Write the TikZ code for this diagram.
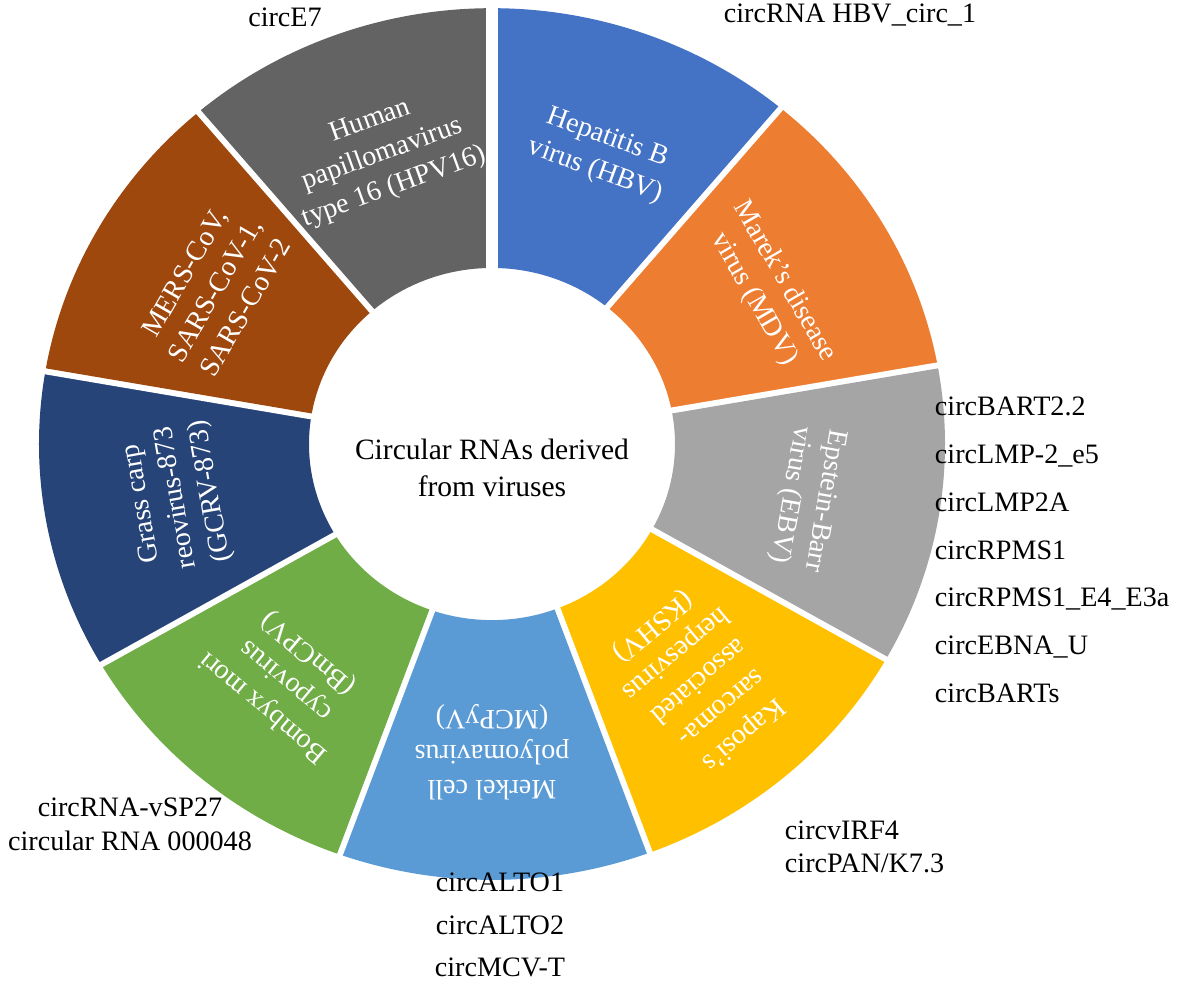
\documentclass[tikz,border=0pt]{standalone}
\usepackage{fontspec}
\setmainfont{Liberation Serif}
\usepackage{xcolor}
\definecolor{hbvblue}{HTML}{4472C4}
\definecolor{mdvorange}{HTML}{ED7D31}
\definecolor{ebvgray}{HTML}{A5A5A5}
\definecolor{kshvyellow}{HTML}{FFC000}
\definecolor{mcpyvblue}{HTML}{5B9BD5}
\definecolor{bmcpvgreen}{HTML}{70AD47}
\definecolor{gcrvnavy}{HTML}{264478}
\definecolor{merbrown}{HTML}{9E480E}
\definecolor{hpvgray}{HTML}{636363}
\tikzset{
  seglabel/.style={text=white, align=center, font=\fontsize{20}{25}\selectfont},
  outlabel/.style={text=black, font=\fontsize{20}{24}\selectfont},
}
\begin{document}
\begin{tikzpicture}[x=0.025cm, y=0.02405cm]
    \useasboundingbox (-492,-558.2) rectangle (689,461.5);

    % draw ring segments
    \foreach \s/\col/\txt [count=\i] in {
        50/hbvblue/{Hepatitis B\\virus (HBV)},
        10/mdvorange/{Marek's disease\\virus (MDV)},
        -30/ebvgray/{Epstein-Barr\\virus (EBV)},
        -70/kshvyellow/{Kaposi's\\sarcoma-\\associated\\herpesvirus\\(KSHV)},
        -110/mcpyvblue/{Merkel cell\\polyomavirus\\(MCPyV)},
        -150/bmcpvgreen/{Bombyx mori\\cypovirus\\(BmCPV)},
        170/gcrvnavy/{Grass carp\\reovirus-873\\(GCRV-873)},
        130/merbrown/{MERS-CoV,\\SARS-CoV-1,\\SARS-CoV-2},
        90/hpvgray/{Human\\papillomavirus\\type 16 (HPV16)}} {
      \fill[\col] (\s : 183) -- (\s : 453)
        arc [radius = 453, start angle = \s, delta angle = 40]
        -- (\s+40 : 183)
        arc [radius = 183, start angle = \s+40, delta angle = -40] -- cycle;
      \draw[white, line width=12*0.025cm] (\s : 170) -- (\s : 470);
      \node[seglabel, rotate=\s+20-90] (seg\i) at (\s+20 : 320) {\txt};
    }

    % draw symbols
    \node[outlabel, align=center, font=\fontsize{21}{26}\selectfont] (centre) at (0,-25) {Circular RNAs derived\\from viruses};
    \node[outlabel] (hpv) at (-207,443) {circE7};
    \node[outlabel] (hbv) at (358,446) {circRNA HBV\_circ\_1};
    \node[outlabel, anchor=north west, align=left, font=\fontsize{20}{34}\selectfont] (ebv) at (438,54)
      {circBART2.2\\circLMP-2\_e5\\circLMP2A\\circRPMS1\\circRPMS1\_E4\_E3a\\circEBNA\_U\\circBARTs};
    \node[outlabel, anchor=north west, align=left] (kshv) at (288,-386)
      {circvIRF4\\circPAN/K7.3};
    \node[outlabel, anchor=north, align=center, font=\fontsize{20}{30}\selectfont] (mcpyv) at (8,-441)
      {circALTO1\\circALTO2\\circMCV-T};
    \node[outlabel, anchor=north, align=center] (bmcpv) at (-362,-363)
      {circRNA-vSP27\\circular RNA 000048};

\end{tikzpicture}
\end{document}
